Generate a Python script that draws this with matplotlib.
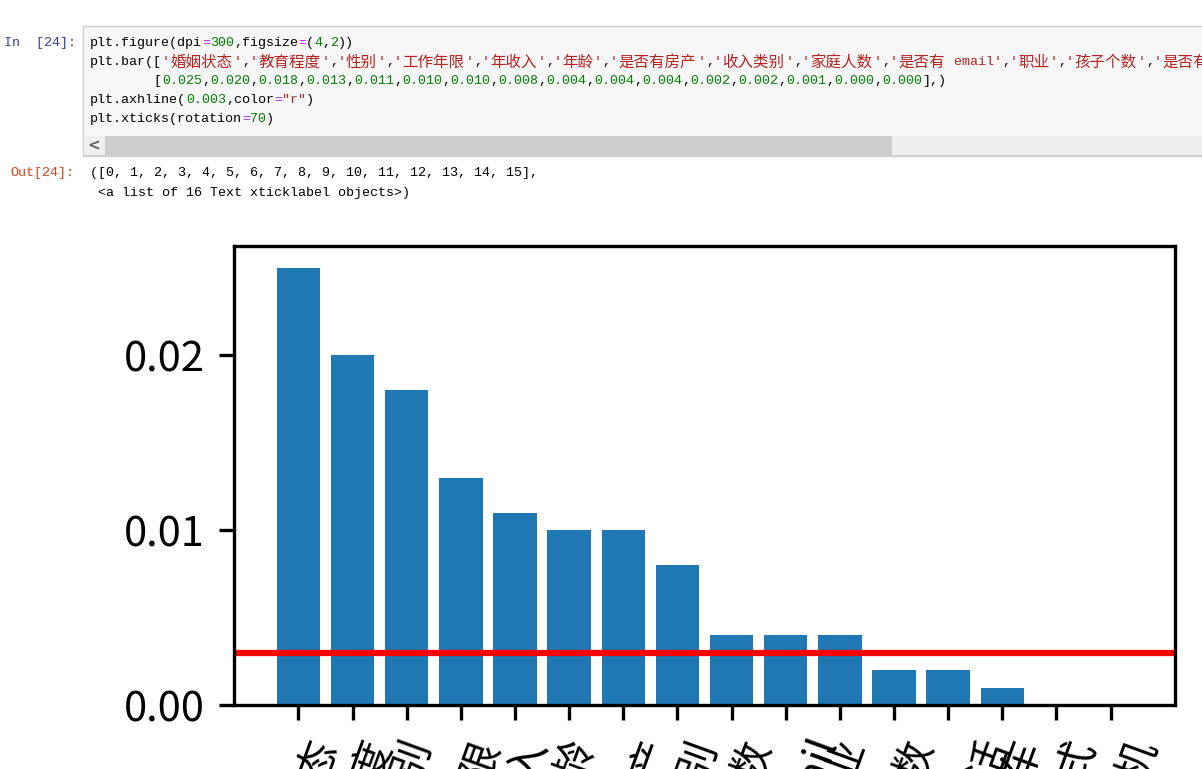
import matplotlib
matplotlib.use("Agg")
import matplotlib.pyplot as plt
from matplotlib.patches import Rectangle

# ---- data ----
features = ['婚姻状态', '教育程度', '性别', '工作年限', '年收入', '年龄', '是否有房产',
            '收入类别', '家庭人数', '是否有 email', '职业', '孩子个数', '是否有工作电话',
            '是否有车', '居住方式', '是否有手机']
importance = [0.025, 0.020, 0.018, 0.013, 0.011, 0.010, 0.010, 0.008,
              0.004, 0.004, 0.004, 0.002, 0.002, 0.001, 0.000, 0.000]
threshold = 0.003
tick_values = [0.00, 0.01, 0.02]
cell_no = 24

W, H = 1202, 769
fig = plt.figure(figsize=(W / 100, H / 100), dpi=100)
fig.patch.set_facecolor('white')

# overlay axes in pixel coordinates for the notebook chrome
bg = fig.add_axes([0, 0, 1, 1])
bg.set_xlim(0, W)
bg.set_ylim(H, 0)
bg.axis('off')

# code cell box
bg.add_patch(Rectangle((83, 26), W - 83 + 5, 130, facecolor='#f7f7f7',
                       edgecolor='#cfcfcf', lw=1))
# scrollbar
bg.add_patch(Rectangle((84, 136), W - 84, 19, facecolor='#eeeeee', edgecolor='none'))
bg.add_patch(Rectangle((84, 136), 21, 19, facecolor='#f0f0f0', edgecolor='none'))
bg.add_patch(Rectangle((105, 136), 787, 19, facecolor='#cdcdcd', edgecolor='none'))
bg.add_patch(Rectangle((83, 155), W - 83, 1.5, facecolor='#cfcfcf', edgecolor='none'))
bg.text(94, 145.5, '<', fontsize=11, fontweight='bold', color='#606060',
        family='DejaVu Sans', ha='center', va='center')

BLACK = '#000000'
GREEN = '#008000'
RED = '#BA2121'
PURPLE = '#AA22FF'


def is_wide(c):
    return ord(c) > 0x2E80


def draw_code(x0, y, tokens):
    x = x0
    for txt, col in tokens:
        runs = []
        for c in txt:
            w = is_wide(c)
            if runs and runs[-1][1] == w:
                runs[-1][0] += c
            else:
                runs.append([c, w])
        for run, wide in runs:
            if x >= W:
                return  # beyond the visible (scrolled) cell area
            if wide:
                bg.text(x, y, run, color=col, fontsize=11.2, family='Noto Sans CJK SC',
                        ha='left', va='center')
            else:
                bg.text(x, y, run, color=col, fontsize=9.6, family='Liberation Mono',
                        ha='left', va='center')
            x += sum(16 if is_wide(c) else 8 for c in run)


# prompts
draw_code(4, 43, [('In  [%d]:' % cell_no, '#303F9F')])
draw_code(10, 173, [('Out[%d]:' % cell_no, '#D84315')])

# code lines
draw_code(90, 43, [('plt.figure(dpi', BLACK), ('=', PURPLE), ('300', GREEN),
                   (',figsize', BLACK), ('=', PURPLE), ('(', BLACK), ('4', GREEN),
                   (',', BLACK), ('2', GREEN), ('))', BLACK)])
line2 = [('plt.bar([', BLACK)]
for i, f in enumerate(features):
    line2.append(("'" + f + "'", RED))
    line2.append((',' if i < len(features) - 1 else '],', BLACK))
draw_code(90, 62, line2)
line3 = [('        [', BLACK)]
for i, v in enumerate(importance):
    line3.append(('%.3f' % v, GREEN))
    line3.append((',' if i < len(importance) - 1 else '],)', BLACK))
draw_code(90, 81, line3)
draw_code(90, 100, [('plt.axhline(', BLACK), ('%.3f' % threshold, GREEN),
                    (',color', BLACK), ('=', PURPLE), ('"r"', RED), (')', BLACK)])
draw_code(90, 119, [('plt.xticks(rotation', BLACK), ('=', PURPLE), ('70', GREEN),
                    (')', BLACK)])

# output
n = len(features)
draw_code(90, 173, [('([' + ', '.join(str(i) for i in range(n)) + '],', BLACK)])
draw_code(90, 193, [(' <a list of %d Text xticklabel objects>)' % n, BLACK)])

# ---- chart ----
left, right, top, bottom = 234, 1175, 246, 705
ax = fig.add_axes([left / W, (H - bottom) / H, (right - left) / W, (bottom - top) / H])
x = list(range(n))
ax.bar(x, importance, width=0.8, color='#1f77b4')
ax.axhline(threshold, color='r', lw=4.5)
ax.set_xticks(x)
ax.set_xticklabels(features, rotation=70)
ax.set_yticks(tick_values)
ax.set_yticklabels(['%.2f' % t for t in tick_values])
for lab in ax.get_xticklabels() + ax.get_yticklabels():
    lab.set_family(['Noto Sans CJK SC', 'DejaVu Sans'])
    lab.set_fontsize(30)
ax.tick_params(length=10.5, width=2.4, pad=10.5, color='black')
for s in ax.spines.values():
    s.set_linewidth(2.4)
ax.set_facecolor('white')

fig.savefig('out.png', dpi=100)
